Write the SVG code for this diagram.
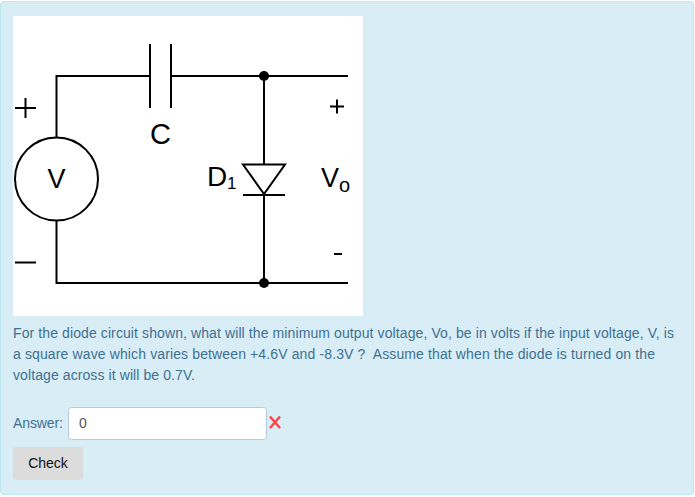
<svg xmlns="http://www.w3.org/2000/svg" width="695" height="497" viewBox="0 0 695 497">
<style>
text{font-family:"Liberation Sans",Arial,sans-serif}
.w{fill:none;stroke:#000;stroke-width:2}
.l{fill:#000}
.q{font-size:14px;fill:#3f7190}
</style>
<rect width="695" height="497" fill="#fff"/>
<rect id="panel" x="0.500" y="1.500" width="693" height="493" rx="3" fill="#d9edf7" stroke="#bce8f1"/>
<rect id="figure" x="13" y="16" width="350" height="300" fill="#fff"/>
<g id="connectors">
<path class="w" d="M56.500 138V76H149M171 76H348M264 76V164M264 194V283M348 283H56.500V220"/>
</g>
<g id="capacitor">
<path class="w" d="M150 44V108M171 44V108"/>
<text class="l" x="160.500" y="144" font-size="29" text-anchor="middle">C</text>
</g>
<g id="source">
<circle class="w" cx="56.500" cy="179" r="41.500"/>
<text class="l" x="56.500" y="188" font-size="27" text-anchor="middle">V</text>
<path d="M15 108H36M25.500 98V118M15 262.500H36" fill="none" stroke="#000" stroke-width="2"/>
</g>
<g id="diode">
<path class="w" d="M243 164.500H285L264 194ZM243 195H285"/>
<text class="l" x="207" y="186" font-size="28">D</text>
<text class="l" x="227" y="189" font-size="17">1</text>
</g>
<g id="junction-top"><circle class="l" cx="264" cy="76" r="5"/></g>
<g id="junction-bottom"><circle class="l" cx="264" cy="283" r="5"/></g>
<g id="output">
<path d="M330 106.500H344M337 99.500V113.500M334 254H342" fill="none" stroke="#000" stroke-width="2"/>
<text class="l" x="321" y="187" font-size="27">V</text>
<text class="l" x="339" y="192" font-size="20">o</text>
</g>
<g id="question">
<text class="q" x="13" y="338" textLength="661" lengthAdjust="spacing">For the diode circuit shown, what will the minimum output voltage, Vo, be in volts if the input voltage, V, is</text>
<text class="q" x="13" y="359" textLength="642" lengthAdjust="spacing" xml:space="preserve">a square wave which varies between +4.6V and -8.3V ?  Assume that when the diode is turned on the</text>
<text class="q" x="13" y="380" textLength="182" lengthAdjust="spacing">voltage across it will be 0.7V.</text>
</g>
<g id="answer">
<text class="q" x="13" y="428" textLength="50" lengthAdjust="spacing">Answer:</text>
<rect x="68.500" y="407.500" width="198" height="32" rx="3" fill="#fff" stroke="#b8cbd8"/>
<text x="79" y="428" font-size="14" fill="#555">0</text>
<path d="M270 416.500L280 428M280 416.500L270 428" fill="none" stroke="#f44" stroke-width="2.500"/>
</g>
<g id="check">
<rect x="13" y="447" width="70" height="33" rx="3" fill="#dcdcdc"/>
<text x="48" y="468" font-size="14" fill="#111" text-anchor="middle">Check</text>
</g>
</svg>
